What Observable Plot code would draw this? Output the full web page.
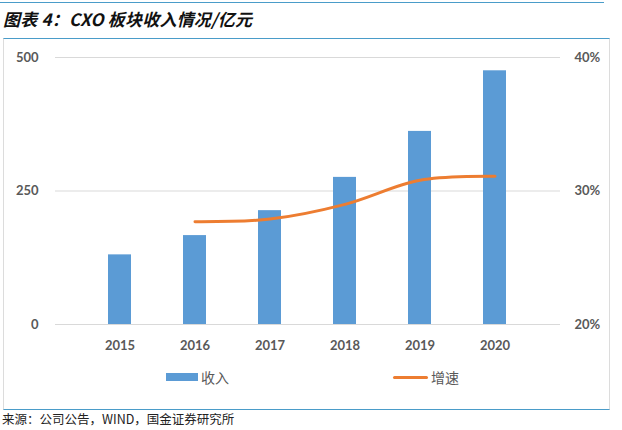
<!DOCTYPE html>
<html>
<head>
<meta charset="utf-8">
<script src="https://cdn.jsdelivr.net/npm/d3@7"></script>
<script src="https://cdn.jsdelivr.net/npm/@observablehq/plot@0.6"></script>
<style>
  html, body { margin: 0; padding: 0; background: #fff; }
  #page { position: relative; width: 622px; height: 430px; overflow: hidden; font-family: "Noto Sans CJK SC", sans-serif; }
  #topline { position: absolute; left: 0; top: 2px; width: 604px; height: 1px; background: #4a9cc9; }
  #title { position: absolute; left: 3px; top: 6px; font-size: 17px; font-weight: bold; font-style: italic; color: #111; letter-spacing: 0.2px; }
  #frame { position: absolute; left: 3px; top: 38px; width: 607px; height: 372px; border-left: 1px solid #dcdcdc; border-right: 1px solid #dcdcdc; border-top: 1px solid #4a9cc9; border-bottom: 1px solid #4a9cc9; box-sizing: border-box; }
  #chart { position: absolute; left: 0; top: 40px; }
  .leg { position: absolute; top: 367px; font-size: 14px; color: #595959; display: flex; align-items: center; }
  .sw-bar { width: 32px; height: 8px; background: #5b9bd5; margin-right: 3px; }
  .sw-line { width: 35px; height: 3px; background: #ed7d31; border-radius: 2px; margin-right: 3px; }
  #caption { position: absolute; left: 2px; top: 409px; font-size: 12.5px; color: #222; }
</style>
</head>
<body>
<div id="page">
  <div id="topline"></div>
  <div id="title">图表 4：CXO 板块收入情况/亿元</div>
  <div id="frame"></div>
  <div id="chart"></div>
  <div class="leg" style="left:166px;"><div class="sw-bar"></div>收入</div>
  <div class="leg" style="left:393px;"><div class="sw-line"></div>增速</div>
  <div id="caption">来源：公司公告，WIND，国金证券研究所</div>
</div>
<script>
const years = ["2015", "2016", "2017", "2018", "2019", "2020"];
const revenue = [130.4, 166.5, 213.2, 275.5, 361.6, 475.1];
const growthYears = ["2016", "2017", "2018", "2019", "2020"];
const growth = [27.7, 27.9, 29.0, 30.8, 31.1];
const leftTicks = [0, 250, 500];
const rightTicks = [20, 30, 40];

const bars = years.map((y, i) => ({year: y, value: revenue[i]}));
const line = growthYears.map((y, i) => ({year: y, g: growth[i]}));
// map right-axis percent (20..40) onto left scale (0..500)
const toLeft = p => (p - 20) / 20 * 500;

const chart = Plot.plot({
  width: 622,
  height: 320,
  marginTop: 17,
  marginBottom: 36,
  marginLeft: 55,
  marginRight: 62,
  style: {fontFamily: "Lato, 'Noto Sans CJK SC', sans-serif", fontSize: "13px", color: "#595959", background: "transparent"},
  x: {domain: years, padding: 0.69, label: null},
  y: {domain: [0, 500], label: null},
  marks: [
    Plot.gridY(leftTicks, {stroke: "#d9d9d9", strokeOpacity: 1, strokeWidth: 1}),
    Plot.barY(bars, {x: "year", y: "value", fill: "#5b9bd5"}),
    Plot.lineY(line, {x: "year", y: d => toLeft(d.g), stroke: "#ed7d31", strokeWidth: 3, curve: "catmull-rom"}),
    Plot.axisX({tickSize: 0, tickPadding: 16, fontWeight: "bold", fill: "#595959", fontSize: 13}),
    Plot.axisY(leftTicks, {anchor: "left", tickSize: 0, tickPadding: 17, fontWeight: "bold", fill: "#595959", fontSize: 13, label: null}),
    Plot.axisY(rightTicks.map(toLeft), {anchor: "right", tickSize: 0, tickPadding: 14, fontWeight: "bold", fill: "#595959", fontSize: 13, label: null,
      tickFormat: v => Math.round(v / 500 * 20 + 20) + "%"})
  ]
});
document.getElementById("chart").appendChild(chart);
</script>
</body>
</html>
